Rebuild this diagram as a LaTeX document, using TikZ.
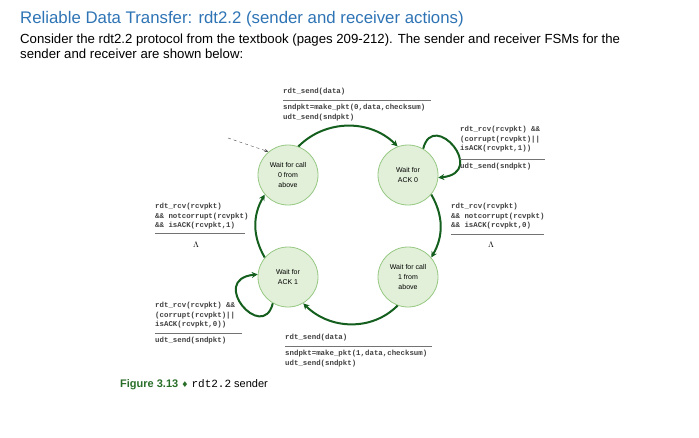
\documentclass[tikz,border=0pt]{standalone}
\usepackage{fontspec}
\setmainfont{Liberation Sans}
\newfontfamily\codefont{Liberation Mono}
\newfontfamily\symfont{DejaVu Sans}
\usetikzlibrary{arrows.meta}
\definecolor{ttl}{RGB}{46,116,181}
\definecolor{arc}{RGB}{20,95,30}
\definecolor{sfill}{RGB}{226,240,217}
\definecolor{sline}{RGB}{150,200,130}
\definecolor{capg}{RGB}{40,110,40}
\tikzset{
 state/.style={circle,draw=sline,fill=sfill,line width=0.8pt,minimum size=60pt,inner sep=0pt,align=center,font=\fontsize{7}{10}\selectfont},
 tr/.style={draw=arc,line width=2pt,-{Stealth[length=6pt,width=6pt]}},
 lbl/.style={anchor=north west,inner sep=0pt,align=left,font=\codefont\bfseries\fontsize{7.4}{9.5}\selectfont,text=black!75},
 rule/.style={draw=black!55,line width=0.8pt}
}
\begin{document}
\begin{tikzpicture}[x=1pt,y=-1pt]
\useasboundingbox (0,0) rectangle (699,437);
\node[anchor=west,inner sep=0pt,text=ttl,font=\fontsize{16.8}{19}\selectfont] (title) at (20,19) {Reliable Data Transfer: rdt2.2 (sender and receiver actions)};
\node[anchor=north west,inner sep=0pt,align=left,font=\fontsize{13.2}{15}\selectfont] (intro) at (20,34) {Consider the rdt2.2 protocol from the textbook (pages 209-212). The sender and receiver FSMs for the\\sender and receiver are shown below:};

\node[state] (c0) at (288,175) {Wait for call\\0 from\\above};
\node[state] (a0) at (408,175) {Wait for\\ACK 0};
\node[state] (a1) at (288,277) {Wait for\\ACK 1};
\node[state] (c1) at (408,277) {Wait for call\\1 from\\above};

\coordinate (init) at (228,138);
\draw[dashed,black!70,-{Stealth[length=4pt]}] (init) -- (c0.130);
\draw[tr] (c0.70) to[out=45,in=135] (a0.110);
\draw[tr] (a0.-40) to[out=-60,in=60] (c1.40);
\draw[tr] (c1.-110) to[out=-135,in=-45] (a1.-60);
\draw[tr] (a1.140) to[out=120,in=-120] (c0.-140);
\draw[tr] (a0.60) .. controls +(10,-40) and +(50,-5) .. (a0.-5);
\draw[tr] (a1.-120) .. controls +(-10,40) and +(-50,5) .. (a1.175);

% labels
\node[lbl] (t1) at (283,88) {rdt\_send(data)};
\draw[rule] (283,100) -- (431,100);
\node[lbl] (t1b) at (283,104) {sndpkt=make\_pkt(0,data,checksum)\\udt\_send(sndpkt)};

\node[lbl] (t2) at (460,126) {rdt\_rcv(rcvpkt) \&\&\\(corrupt(rcvpkt)||\\isACK(rcvpkt,1))};
\draw[rule] (460,159) -- (545,159);
\node[lbl] (t2b) at (460,163) {udt\_send(sndpkt)};

\node[lbl] (t3) at (451,203) {rdt\_rcv(rcvpkt)\\\&\& notcorrupt(rcvpkt)\\\&\& isACK(rcvpkt,0)};
\draw[rule] (451,234) -- (544,234);
\node[font=\fontsize{8}{8}\selectfont] (l3) at (491,245) {$\Lambda$};

\node[lbl] (t4) at (155,203) {rdt\_rcv(rcvpkt)\\\&\& notcorrupt(rcvpkt)\\\&\& isACK(rcvpkt,1)};
\draw[rule] (155,233) -- (245,233);
\node[font=\fontsize{8}{8}\selectfont] (l4) at (196,245) {$\Lambda$};

\node[lbl] (t5) at (155,302) {rdt\_rcv(rcvpkt) \&\&\\(corrupt(rcvpkt)||\\isACK(rcvpkt,0))};
\draw[rule] (155,333) -- (242,333);
\node[lbl] (t5b) at (155,337) {udt\_send(sndpkt)};

\node[lbl] (t6) at (285,334) {rdt\_send(data)};
\draw[rule] (285,346) -- (432,346);
\node[lbl] (t6b) at (285,350) {sndpkt=make\_pkt(1,data,checksum)\\udt\_send(sndpkt)};

\node[anchor=west,inner sep=0pt,font=\fontsize{11}{12}\selectfont] (cap) at (120,385) {\textcolor{capg}{\textbf{Figure 3.13} {\symfont\fontsize{8}{8}\selectfont ♦}} {\codefont rdt2.2} sender};
\end{tikzpicture}
\end{document}
